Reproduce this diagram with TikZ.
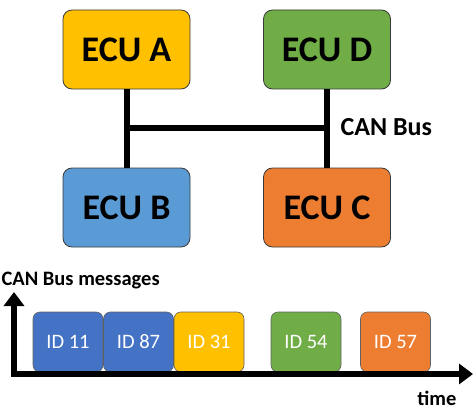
\documentclass[tikz,border=0pt]{standalone}
\usepackage{fontspec}
\setmainfont{Carlito}
\usetikzlibrary{arrows.meta}
\definecolor{ecuyellow}{HTML}{FFC000}
\definecolor{ecugreen}{HTML}{70AD47}
\definecolor{ecublue}{HTML}{5B9BD5}
\definecolor{ecuorange}{HTML}{ED7D31}
\definecolor{iddarkblue}{HTML}{4472C4}
\definecolor{edgegray}{HTML}{3A3A3A}
\tikzset{
  ecubox/.style={draw=edgegray, line width=0.8pt, rounded corners=9pt, minimum width=127pt, minimum height=79pt, inner sep=0pt, font=\fontsize{36}{40}\selectfont\bfseries},
  idbox/.style={draw=edgegray!80, line width=0.6pt, rounded corners=7pt, minimum width=70pt, minimum height=60pt, inner sep=0pt, text=white, font=\fontsize{20.5}{24}\selectfont},
  busline/.style={line width=6pt},
  axisline/.style={line width=6pt, -{Triangle[length=14pt,width=20pt]}},
}
\begin{document}
\begin{tikzpicture}[x=1pt,y=-1pt]
\useasboundingbox (0,0) rectangle (474,412);
\node[ecubox, fill=ecuyellow] (A) at (126.5,49.5) {ECU A};
\node[ecubox, fill=ecugreen] (D) at (327,49.5) {ECU D};
\node[ecubox, fill=ecublue] (B) at (126.5,207.5) {ECU B};
\node[ecubox, fill=ecuorange] (C) at (327,207.5) {ECU C};
\coordinate (jl) at (A.south |- 0,128);
\coordinate (jr) at (D.south |- 0,128);
\draw[busline] (A.south) -- (B.north);
\draw[busline] (D.south) -- (C.north);
\draw[busline] (jl) -- (jr);
\node[anchor=west, font=\fontsize{26}{30}\selectfont\bfseries] (canbus) at (337,127) {CAN Bus};
% timeline
\coordinate (origin) at (14,374);
\coordinate (ytop) at (14,292);
\coordinate (xend) at (473,374);
\node[idbox, fill=iddarkblue] (id11) at (68,342) {ID 11};
\node[idbox, fill=iddarkblue] (id87) at (138.5,342) {ID 87};
\node[idbox, fill=ecuyellow] (id31) at (209,342) {ID 31};
\node[idbox, fill=ecugreen] (id54) at (306,342) {ID 54};
\node[idbox, fill=ecuorange] (id57) at (395.5,342) {ID 57};
\draw[axisline] ([xshift=-3pt]origin) -- (xend);
\draw[axisline] ([yshift=3pt]origin) -- (ytop);
\node[anchor=west, font=\fontsize{20.5}{24}\selectfont\bfseries] (msgs) at (-2,281) {CAN Bus messages};
\node[anchor=east, font=\fontsize{20.5}{24}\selectfont\bfseries] (time) at (460,398) {time};
\end{tikzpicture}
\end{document}
